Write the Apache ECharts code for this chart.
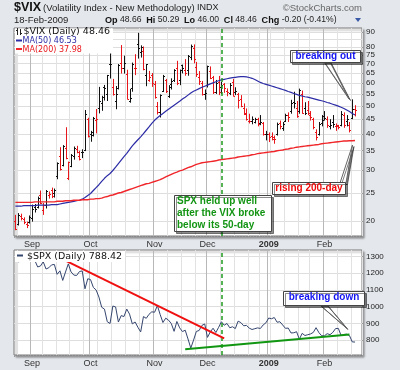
<!DOCTYPE html>
<html><head><meta charset="utf-8">
<script src="https://cdn.jsdelivr.net/npm/echarts@6/dist/echarts.min.js"></script>
<style>html,body{margin:0;padding:0;background:#e4e7eb}#c{width:400px;height:370px}</style>
</head><body><div id="c"></div>
<script>
// ---- trading days by month ----
const tradingDays = {
  '2008-08': [22,25,26,27,28,29],
  '2008-09': [2,3,4,5,8,9,10,11,12,15,16,17,18,19,22,23,24,25,26,29,30],
  '2008-10': [1,2,3,6,7,8,9,10,13,14,15,16,17,20,21,22,23,24,27,28,29,30,31],
  '2008-11': [3,4,5,6,7,10,11,12,13,14,17,18,19,20,21,24,25,26,28],
  '2008-12': [1,2,3,4,5,8,9,10,11,12,15,16,17,18,19,22,23,24,26,29,30,31],
  '2009-01': [2,5,6,7,8,9,12,13,14,15,16,20,21,22,23,26,27,28,29,30],
  '2009-02': [2,3,4,5,6,9,10,11,12,13,17,18,19,20]
};
const dates = [];
Object.keys(tradingDays).forEach(m => tradingDays[m].forEach(d => dates.push(m + '-' + String(d).padStart(2,'0'))));
const monthNames = ['Jan','Feb','Mar','Apr','May','Jun','Jul','Aug','Sep','Oct','Nov','Dec'];

// ---- $VIX daily OHLC ----
const vixOpen = [20.0,19.5,20.8,20.4,19.6,19.9, 20.5,22.3,22.4,24.6,21.8,22.8,24.6,25.6,25.0,28.6,33.5,31.2,35.8,28.2,31.1,33.5,35.6,33.6,34.6,35.1,45.0,
 40.0,40.5,44.6,49.0,51.0,58.2,55.0,70.0,58.0,52.2,57.6,70.6,67.5,64.4,52.2,57.6,67.5,81.7,76.6,77.2,63.8,61.4,64.0,
 59.6,49.9,47.7,56.5,61.5,54.3,59.5,61.5,67.4,61.3,69.0,66.5,66.4,74.0,79.0,68.0,63.0,60.0,55.0,
 59.0,66.0,63.0,56.0,60.5,58.0,59.5,56.5,55.5,60.5,56.0,55.0,53.0,49.0,47.0,44.5,44.3,44.0,45.0,43.8,43.5,39.9,
 40.0,39.5,38.5,40.0,43.8,42.0,44.5,46.5,48.0,51.5,49.0,48.0,55.0,49.0,48.5,46.5,45.0,40.5,40.0,43.5,
 46.0,45.0,42.5,44.0,42.5,42.5,43.0,46.5,44.5,43.0,45.5,48.66];
const vixHigh = [21.0,21.3,21.2,20.6,19.9,20.9, 22.8,22.9,24.3,25.5,23.1,25.6,25.3,26.1,25.9,31.9,36.0,36.6,42.2,32.1,34.1,36.2,36.4,35.0,35.4,48.4,45.5,
 41.0,45.8,48.8,58.2,54.2,59.1,64.0,76.9,62.0,58.6,69.8,81.2,74.6,66.7,57.3,70.6,75.5,89.5,81.0,80.3,69.8,66.1,65.0,
 61.0,51.6,54.8,64.0,62.0,59.0,62.3,67.0,71.6,66.8,69.5,72.6,75.0,81.5,81.6,71.0,66.0,61.0,57.0,
 68.9,68.5,63.5,61.5,63.5,60.5,60.0,57.5,60.0,62.0,58.0,55.5,54.5,51.0,49.0,47.0,46.0,45.5,45.5,46.5,44.0,41.0,
 40.5,40.5,39.5,43.8,44.5,44.0,47.0,47.5,52.5,56.0,52.0,57.4,56.5,51.5,52.0,48.0,45.5,41.5,44.0,46.5,
 48.0,46.0,45.0,46.5,43.5,43.0,48.0,47.5,46.5,44.0,52.7,50.29];
const vixLow = [18.6,19.3,20.1,19.5,18.9,19.6, 19.9,21.4,22.1,22.9,21.0,22.1,23.9,24.0,24.1,27.9,29.9,30.9,32.7,27.7,30.7,32.6,34.3,32.4,33.0,34.9,38.9,
 37.6,39.2,40.2,47.1,48.1,52.2,52.0,62.2,54.3,48.7,57.0,64.7,64.7,52.7,51.3,56.0,63.9,72.9,73.5,66.4,58.5,60.6,58.2,
 53.0,46.7,45.6,55.9,55.4,53.3,57.0,60.5,59.0,59.0,64.8,63.6,63.6,72.0,70.2,63.0,59.1,54.3,52.5,
 57.9,61.9,55.0,55.0,54.5,55.0,55.5,54.0,54.5,54.0,54.5,49.0,49.5,46.5,44.5,43.5,43.2,43.5,42.5,42.9,39.5,38.0,
 37.5,38.0,37.0,39.5,41.5,41.0,44.0,44.0,47.0,49.0,45.5,47.0,47.0,46.5,46.5,44.5,41.5,38.0,39.5,42.5,
 44.5,42.0,41.5,42.0,41.0,41.5,42.5,42.0,42.5,40.5,45.0,46.00];
const vixClose = [18.81,20.97,20.49,19.82,19.43,20.65, 21.99,22.00,24.03,23.06,22.64,25.47,24.72,24.39,25.66,31.70,30.30,36.22,33.10,32.07,33.85,35.72,34.74,32.82,34.74,46.72,39.39,
 39.81,45.26,45.14,52.05,53.68,57.53,63.92,69.95,54.99,55.13,69.25,67.61,70.33,52.97,53.11,69.65,67.80,79.13,80.06,66.96,69.96,62.90,59.89,
 53.68,47.73,54.56,63.68,56.10,58.00,61.00,66.46,59.83,66.31,67.64,65.00,74.26,80.86,72.67,64.70,60.90,54.92,55.28,
 68.51,62.39,55.73,59.93,56.00,58.91,57.54,55.73,59.18,54.28,56.45,52.37,49.84,47.34,44.93,44.21,44.93,45.02,43.38,43.90,39.88,40.00,
 39.19,39.08,38.56,43.39,42.56,43.27,46.40,45.80,51.00,51.00,46.10,56.65,47.29,47.30,47.27,45.69,42.30,39.00,43.30,44.84,
 45.52,43.06,43.06,43.37,42.82,42.32,46.94,42.93,45.00,41.25,48.66,48.46];
const ma50 = [22.5,22.5,22.5,22.6,22.6,22.6,22.6,22.6,22.7,22.7,22.7,22.7,22.7,22.8,22.8,22.8,
 22.9,23.0,23.1,23.2,23.3,23.4,23.5,23.6,23.8,24.1,24.5,24.9,
 25.5,26.1,26.7,27.4,28.1,28.7,29.2,29.9,30.7,31.6,32.5,33.4,34.3,
 35.3,36.4,37.3,38.2,39.1,40.1,41.2,42.3,43.5,44.6,
 45.5,46.3,47.1,47.9,48.7,49.5,50.3,
 51.1,51.9,52.8,53.6,54.5,55.4,56.2,56.8,57.4,58.0,
 58.5,59.0,59.6,60.1,60.6,61.1,61.5,
 61.8,62.1,62.4,62.6,62.8,63.0,63.1,
 63.1,63.0,62.7,62.3,61.7,61.0,60.3,
 59.8,59.4,59.0,58.6,58.2,57.8,57.4,
 57.0,56.6,56.1,55.7,55.2,54.8,54.4,
 54.1,53.8,53.6,53.3,53.0,52.7,52.4,52.1,
 51.8,51.4,51.1,50.7,50.3,49.9,49.5,
 49.0,48.4,47.8,47.1,46.53];
const ma200 = [23.2,23.2,23.2,23.2,23.2,23.2,23.2,23.3,23.3,23.3,23.3,23.3,23.3,
 23.3,23.3,23.4,23.4,23.4,23.5,23.5,23.5,23.6,23.6,23.6,23.7,23.7,23.7,23.8,23.8,23.9,23.9,
 24.0,24.2,24.3,24.5,24.6,24.8,25.0,25.1,25.3,25.5,25.7,25.9,
 26.1,26.3,26.5,26.7,26.9,27.0,27.2,27.4,27.6,27.8,
 28.1,28.4,28.7,29.0,29.3,29.5,29.8,30.0,30.3,30.6,30.8,31.1,31.4,31.6,
 31.8,31.9,32.0,32.1,32.2,32.3,32.5,32.6,
 32.7,32.8,32.9,33.0,33.1,33.3,33.4,
 33.5,33.6,33.7,33.9,34.0,34.2,34.3,
 34.4,34.5,34.6,34.7,34.8,35.0,35.1,
 35.2,35.4,35.5,35.7,35.8,36.0,36.1,
 36.2,36.3,36.4,36.5,36.6,36.7,36.8,37.0,
 37.1,37.2,37.3,37.4,37.5,37.6,37.7,
 37.8,37.8,37.9,37.9,37.98];

// ---- $SPX daily close ----
const spxClose = [1292.2,1266.8,1271.5,1281.7,1300.7,1282.8,
 1277.6,1275.0,1236.8,1242.3,1267.8,1224.5,1232.0,1249.1,1251.7,1192.7,1213.6,1156.4,1206.5,1255.1,1207.1,1188.2,1185.9,1209.2,1213.3,1106.4,1166.4,
 1161.1,1114.3,1099.2,1056.9,996.2,984.9,909.9,899.2,1003.4,998.0,907.8,946.4,940.6,985.4,955.1,896.8,908.1,876.8,848.9,940.5,930.1,954.1,968.8,
 966.3,1005.8,952.8,904.9,931.0,919.2,899.0,852.3,911.3,873.3,850.8,859.1,806.6,752.4,800.0,851.8,857.4,887.7,896.2,
 816.2,848.8,870.7,845.2,876.1,909.7,888.7,899.2,873.6,879.7,868.6,913.2,904.4,885.3,887.9,871.6,863.2,868.2,872.8,869.4,890.6,903.3,
 931.8,927.5,934.7,906.7,909.7,890.4,870.3,871.8,842.6,843.7,850.1,805.2,840.2,827.5,832.0,836.6,845.7,874.1,845.1,825.9,
 825.4,838.5,832.2,845.9,868.6,869.9,827.2,833.7,835.2,826.8,789.17,788.42];

// ---- ticks and annotation anchors ----
const vixTicks = [20,25,30,35,40,45,50,55,60,65,70,75,80,85,90];
const spxTicks = [800,900,1000,1100,1200,1300];
const breakDate = '2008-12-08';
const spxDownTrend = [['2008-09-16',1291],['2008-12-09',810]];
const spxUpTrend = [['2008-11-18',746],['2009-02-13',833]];

const n = vixClose.length;
const isMonthStart = i => i > 0 && dates[i].slice(0,7) !== dates[i-1].slice(0,7);
const isWeekStart = i => i > 0 && new Date(dates[i]+'T12:00:00Z').getUTCDay() <= new Date(dates[i-1]+'T12:00:00Z').getUTCDay();
const monthFmt = (v) => { const m = +v.slice(5,7); return m === 1 ? '{y|' + v.slice(0,4) + '}' : monthNames[m-1]; };
const FONT = '"Liberation Sans", Arial, sans-serif';
const DJ = '"DejaVu Sans", Verdana, sans-serif';

function xAxes(grid) {
  return [{
    type:'category', gridIndex:grid, data:dates, boundaryGap:true, position:'bottom',
    axisLine:{show:false},
    axisTick:{show:true, interval:0, length:2, inside:false, lineStyle:{color:'#9a9a9a'}},
    axisLabel:{interval:(i)=>isMonthStart(i), formatter:monthFmt, fontSize:9, color:'#333', margin:4, fontFamily:FONT,
      rich:{y:{fontWeight:'bold', fontSize:9, color:'#333', fontFamily:FONT}}},
    splitLine:{show:true, interval:(i)=>isMonthStart(i), lineStyle:{color:'#b8b8b8', width:1}}
  },{
    type:'category', gridIndex:grid, data:dates, boundaryGap:true, position:'top',
    axisLine:{show:false}, axisTick:{show:false}, axisLabel:{show:false},
    splitLine:{show:true, interval:(i)=>isWeekStart(i) && !isMonthStart(i), lineStyle:{color:'#e2e2e2', width:1}}
  }];
}

const ohlcData = vixClose.map((c,i)=>[i, vixOpen[i], vixHigh[i], vixLow[i], c]);

const option = {
  animation:false,
  backgroundColor:'#e4e7eb',
  textStyle:{fontFamily:FONT},
  grid:[
    {left:14, top:28, right:38, height:208, show:true, backgroundColor:'#fff', borderColor:'#7a7a7a', borderWidth:1,
      shadowColor:'rgba(0,0,0,0.35)', shadowBlur:2, shadowOffsetX:2, shadowOffsetY:2},
    {left:14, top:250, right:38, height:105, show:true, backgroundColor:'#fff', borderColor:'#7a7a7a', borderWidth:1,
      shadowColor:'rgba(0,0,0,0.35)', shadowBlur:2, shadowOffsetX:2, shadowOffsetY:2}
  ],
  xAxis:[...xAxes(0), ...xAxes(1)],
  yAxis:[
    {type:'log', logBase:10, gridIndex:0, position:'right', min:17.75, max:93,
      axisLine:{show:false},
      axisTick:{show:true, length:2, customValues:vixTicks, lineStyle:{color:'#9a9a9a'}},
      axisLabel:{customValues:vixTicks, fontSize:8, color:'#222', margin:4, fontFamily:FONT,
        hideOverlap:false, showMinLabel:true, showMaxLabel:true, formatter:(v)=>String(Math.round(v))},
      splitLine:{show:true, lineStyle:{color:'#dedede'}}},
    {type:'value', gridIndex:1, position:'right', min:711, max:1338,
      axisLine:{show:false},
      axisTick:{show:true, length:2, customValues:spxTicks, lineStyle:{color:'#9a9a9a'}},
      axisLabel:{customValues:spxTicks, fontSize:8, color:'#222', margin:4, fontFamily:FONT,
        hideOverlap:false, formatter:(v)=>String(Math.round(v))},
      splitLine:{show:true, lineStyle:{color:'#dedede'}}}
  ],
  series:[
    {type:'custom', name:'$VIX', xAxisIndex:0, yAxisIndex:0, data:ohlcData, encode:{x:0, y:[1,2,3,4]}, z:3,
      renderItem:(params, api) => {
        const i = api.value(0);
        const o = api.value(1), h = api.value(2), l = api.value(3), c = api.value(4);
        const prev = i > 0 ? vixClose[i-1] : o;
        const color = c < prev ? '#e8161b' : '#111';
        const pH = api.coord([i, h]), pL = api.coord([i, l]), pO = api.coord([i, o]), pC = api.coord([i, c]);
        const x = Math.round(pH[0]) + 0.5;
        const yo = Math.round(pO[1]) + 0.5, yc = Math.round(pC[1]) + 0.5;
        const st = {stroke:color, lineWidth:1};
        return {type:'group', children:[
          {type:'line', shape:{x1:x, y1:pH[1], x2:x, y2:pL[1]}, style:st},
          {type:'line', shape:{x1:x-1.5, y1:yo, x2:x, y2:yo}, style:st},
          {type:'line', shape:{x1:x, y1:yc, x2:x+1.5, y2:yc}, style:st}
        ]};
      }},
    {type:'line', name:'MA(50)', xAxisIndex:0, yAxisIndex:0, data:ma50, symbol:'none', z:4,
      lineStyle:{color:'#2c2ca6', width:1.2},
      markLine:{silent:true, symbol:'none', label:{show:false},
        lineStyle:{color:'#1f9a1f', type:[4,3], width:1.5}, data:[{xAxis:breakDate}]}},
    {type:'line', name:'MA(200)', xAxisIndex:0, yAxisIndex:0, data:ma200, symbol:'none', z:4,
      lineStyle:{color:'#f0262a', width:1.4}},
    {type:'line', name:'$SPX', xAxisIndex:2, yAxisIndex:1, data:spxClose, symbol:'none', z:3,
      lineStyle:{color:'#34456e', width:1},
      markLine:{silent:true, symbol:'none', label:{show:false},
        data:[
          {xAxis:breakDate, lineStyle:{color:'#1f9a1f', type:[4,3], width:1.5}},
          [{coord:spxDownTrend[0], lineStyle:{color:'#f01010', width:2, type:'solid'}}, {coord:spxDownTrend[1]}],
          [{coord:spxUpTrend[0], lineStyle:{color:'#119611', width:2, type:'solid'}}, {coord:spxUpTrend[1]}]
        ]}}
  ],
  graphic:[]
};

const last = n - 1;
const chg = vixClose[last] - vixClose[last-1];
const pct = chg / vixClose[last-1] * 100;
const d = new Date(dates[last]+'T12:00:00Z');
const dateStr = d.getUTCDate() + '-' + monthNames[d.getUTCMonth()] + '-' + d.getUTCFullYear();

function txt(x, y, text, size, family, color, opts) {
  return Object.assign({type:'text', x:x, y:y, z:60, style:Object.assign({text:text, fontSize:size, fontFamily:family, fill:color,
    textVerticalAlign:'middle'}, opts || {})});
}
function ln(x1, y1, x2, y2, color, w) {
  return {type:'line', z:55, shape:{x1:x1, y1:y1, x2:x2, y2:y2}, style:{stroke:color, lineWidth:w}};
}

function box(x, y, w, h, lines, color, align, tail) {
  const els = [];
  if (tail) {
    els.push({type:'polygon', shape:{points:tail}, style:{fill:'#fff', stroke:'#666', lineWidth:1,
      shadowColor:'rgba(0,0,0,0.5)', shadowOffsetX:1.5, shadowOffsetY:1.5}, z:100});
  }
  els.push({type:'rect', shape:{x:x+0.5, y:y+0.5, width:w, height:h}, style:{fill:'#fff', stroke:'#444', lineWidth:1,
    shadowColor:'rgba(0,0,0,0.45)', shadowOffsetX:2, shadowOffsetY:2}, z:101});
  lines.forEach((t, k) => {
    els.push({type:'text', x: align === 'center' ? x + w/2 + 0.5 : x + 3, y: y + 6.5 + k*11.8, z:102,
      style:{text:t, fill:color, fontSize:10, fontWeight:'bold', fontFamily:FONT, textAlign:align, textVerticalAlign:'middle'}});
  });
  return els;
}

const headRich = {
  b:{fontSize:9.1, fontWeight:'bold', fontFamily:FONT, fill:'#111'},
  v:{fontSize:8.6, fontFamily:FONT, fill:'#222'}
};
const f2 = v => v.toFixed(2);

option.graphic = [
  txt(14, 8, '$VIX', 12.5, FONT, '#111', {fontWeight:'bold'}),
  txt(43, 8, '(Volatility Index - New Methodology)', 9.5, FONT, '#222'),
  txt(197, 8, 'INDX', 9, FONT, '#222'),
  txt(362, 8, '\u00a9StockCharts.com', 9.5, FONT, '#666', {textAlign:'right'}),
  txt(14, 20, dateStr, 9.5, FONT, '#222'),
  txt(105, 20, '{b|Op} {v|' + f2(vixOpen[last]) + '}  {b|Hi} {v|' + f2(vixHigh[last]) + '}  {b|Lo} {v|' + f2(vixLow[last]) +
      '}  {b|Cl} {v|' + f2(vixClose[last]) + '}  {b|Chg} {v|' + f2(chg) + ' (' + f2(pct) + '%)}', 8.6, FONT, '#222', {rich:headRich}),
  {type:'polygon', z:60, shape:{points:[[355,18],[361,18],[358,22]]}, style:{fill:'#3a5aa8'}},
  // main legend
  {type:'rect', z:54, shape:{x:15, y:28.5, width:98, height:25}, style:{fill:'#fff'}},
  ln(17.5, 28, 17.5, 35, '#222', 1), ln(16, 30.5, 17.5, 30.5, '#222', 1),
  ln(20.5, 29, 20.5, 35, '#222', 1), ln(20.5, 33.5, 22, 33.5, '#222', 1),
  txt(23.5, 32, '$VIX (Daily) ' + f2(vixClose[last]), 9.5, DJ, '#111'),
  ln(16, 40.5, 22, 40.5, '#2c2ca6', 2),
  txt(22.5, 41, 'MA(50) ' + f2(ma50[last]), 8, DJ, '#2c2ca6'),
  ln(16, 49, 22, 49, '#f0262a', 2),
  txt(22.5, 49.5, 'MA(200) ' + f2(ma200[last]), 8, DJ, '#e8161b'),
  // lower legend
  {type:'rect', z:54, shape:{x:15, y:251, width:110, height:11}, style:{fill:'#fff'}},
  ln(17, 255.5, 23, 255.5, '#34456e', 2),
  txt(27, 256.5, '$SPX (Daily) ' + f2(spxClose[last]), 9.5, DJ, '#111'),
  ...box(290, 50, 70, 12, ['breaking out'], '#1414f0', 'center', [[324,62],[330,62],[349,99]]),
  ...box(272, 182, 73, 12, ['rising 200-day'], '#ee0a0a', 'center', [[340,183],[346,183],[352.5,145]]),
  ...box(174, 195, 97, 36, ['SPX held up well','after the VIX broke','below its 50-day'], '#139413', 'left', null),
  ...box(283, 291, 81, 14, ['breaking down'], '#1414f0', 'center', [[320,305],[327,305],[346.5,328]])
];

const chart = echarts.init(document.getElementById('c'), null, {renderer:'canvas'});
chart.setOption(option);
</script></body></html>
